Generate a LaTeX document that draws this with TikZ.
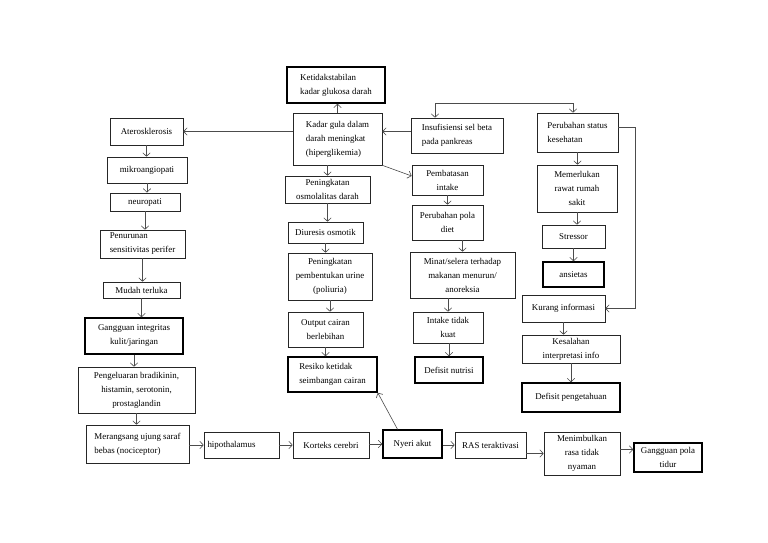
\documentclass[tikz,border=0pt]{standalone}
\usepackage{fontspec}
\setmainfont{Liberation Serif}
\usetikzlibrary{arrows.meta,calc}
\begin{document}
\begin{tikzpicture}[x=1pt,y=-1pt,
  box/.style={draw=black!85, line width=0.6pt, align=center, inner sep=1.5pt,
    font=\fontsize{8.9}{14}\selectfont},
  tbox/.style={box, line width=1.5pt, draw=black},
  lbox/.style={box, align=left},
  arr/.style={draw=black!70, line width=0.6pt, -{Straight Barb[length=3.5pt,width=7.5pt]}}]
\useasboundingbox (0,0) rectangle (768,543);
\fill[white] (0,0) rectangle (768,543);
% top middle
\node[tbox, minimum width=98, minimum height=36, align=left] (ket) at (336,85) {Ketidakstabilan\\kadar glukosa darah};
\node[lbox, minimum width=89, minimum height=52] (kadar) at (337.5,139) {Kadar gula dalam\\darah meningkat\\(hiperglikemia)};
% left column
\node[box, minimum width=73, minimum height=27] (ater) at (146.5,131.5) {Aterosklerosis};
\node[box, minimum width=80, minimum height=26] (mikro) at (147,170) {mikroangiopati};
\node[box, minimum width=70, minimum height=18, line width=0.9pt] (neuro) at (145,202) {neuropati};
\node[lbox, minimum width=85, minimum height=28] (penur) at (142.5,244) {Penurunan\\sensitivitas perifer};
\node[box, minimum width=77, minimum height=16] (mudah) at (141.5,290) {Mudah terluka};
\node[tbox, minimum width=98, minimum height=36] (gangint) at (134,336) {Gangguan integritas\\kulit/jaringan};
\node[box, minimum width=117, minimum height=46] (penge) at (136.5,390) {Pengeluaran bradikinin,\\histamin, serotonin,\\prostaglandin};
\node[lbox, minimum width=103, minimum height=38] (meran) at (137.5,444) {Merangsang ujung saraf\\bebas (nociceptor)};
% bottom row
\node[lbox, minimum width=75, minimum height=26, text width=68] (hipo) at (241.5,445) {hipothalamus};
\node[box, minimum width=76, minimum height=26] (kort) at (331,445) {Korteks cerebri};
\node[tbox, minimum width=59, minimum height=28] (nyeri) at (412.5,444) {Nyeri akut};
\node[box, minimum width=71, minimum height=26] (ras) at (490.5,445) {RAS teraktivasi};
\node[box, minimum width=76, minimum height=43] (menim) at (582,453.5) {Menimbulkan\\rasa tidak\\nyaman};
\node[tbox, minimum width=68, minimum height=29] (gpt) at (668,457.5) {Gangguan pola\\tidur};
% middle column
\node[box, minimum width=85, minimum height=27] (osmo) at (327.5,189.5) {Peningkatan\\osmolalitas darah};
\node[box, minimum width=75, minimum height=21] (diur) at (325.5,232.5) {Diuresis osmotik};
\node[box, minimum width=84, minimum height=47] (urine) at (330,276.5) {Peningkatan\\pembentukan urine\\(poliuria)};
\node[box, minimum width=75, minimum height=35] (output) at (325.5,329.5) {Output cairan\\berlebihan};
\node[tbox, minimum width=89, minimum height=35, align=left] (resiko) at (332.5,374.5) {Resiko ketidak\\seimbangan cairan};
% right-middle column
\node[lbox, minimum width=92, minimum height=35] (insuf) at (457,135.5) {Insufisiensi sel beta\\pada pankreas};
\node[box, minimum width=71, minimum height=30] (pemb) at (447.5,180) {Pembatasan\\intake};
\node[box, minimum width=71, minimum height=35] (pola) at (447.5,222.5) {Perubahan pola\\diet};
\node[box, minimum width=105, minimum height=46] (minat) at (462.5,275) {Minat/selera terhadap\\makanan menurun/\\anoreksia};
\node[box, minimum width=70, minimum height=31] (intake) at (448,327.5) {Intake tidak\\kuat};
\node[tbox, minimum width=68, minimum height=26] (defnut) at (449,370) {Defisit nutrisi};
% right column
\node[lbox, minimum width=81, minimum height=39] (pstat) at (577.5,132.5) {Perubahan status\\kesehatan};
\node[box, minimum width=80, minimum height=47] (rawat) at (577,188.5) {Memerlukan\\rawat rumah\\sakit};
\node[box, minimum width=63, minimum height=23] (stress) at (573.5,236.5) {Stressor};
\node[tbox, minimum width=61, minimum height=25] (ansi) at (573.5,274.5) {ansietas};
\node[box, minimum width=83, minimum height=27] (kurang) at (563.5,308.5) {Kurang informasi};
\node[box, minimum width=98, minimum height=28] (kesal) at (571,349) {Kesalahan\\interpretasi info};
\node[tbox, minimum width=98, minimum height=29] (defpeng) at (571,397.5) {Defisit pengetahuan};
% helper coordinates
\coordinate (tl) at (435,103);
\coordinate (tr) at (573,103);
\coordinate (rc) at (635,0);
% connectors
\draw[arr] (kadar.north) -- (kadar.north |- ket.south);
\draw[arr] (kadar.west |- ater.east) -- (ater.east);
\draw[arr] (insuf.west |- ater.east) -- (kadar.east |- ater.east);
\draw[arr] (kadar.south east) -- ([yshift=4pt]pemb.west);
\draw[arr] (kadar.south -| osmo.north) -- (osmo.north);
\draw[arr] (tl) -- (insuf.north -| tl);
\draw[arr] (tl) -- (tr) -- (pstat.north -| tr);
\draw[arr] ([yshift=5pt]pstat.east) -- ([yshift=5pt]pstat.east -| rc) -- (kurang.east -| rc) -- (kurang.east);
% left chain
\foreach \a/\b in {ater/mikro, mikro/neuro, neuro/penur, penur/mudah, mudah/gangint, gangint/penge, penge/meran}
  \draw[arr] (\a.south) -- (\a.south |- \b.north);
% bottom row
\foreach \a/\b in {meran/hipo, hipo/kort, kort/nyeri, nyeri/ras, ras/menim}
  \draw[arr] (\a.east |- \b.west) -- (\b.west);
\draw[arr] ([yshift=4pt]menim.east) -- ([yshift=4pt]menim.east -| gpt.west);
\draw[arr] ([xshift=-15pt]nyeri.north) -- (resiko.south east);
% middle chain
\foreach \a/\b in {osmo/diur, diur/urine, urine/output, output/resiko}
  \draw[arr] (\a.south) -- (\a.south |- \b.north);
% right-middle chain
\foreach \a/\b in {pemb/pola, pola/minat, minat/intake, intake/defnut}
  \draw[arr] (\b.north |- \a.south) -- (\b.north);
% right chains
\foreach \a/\b in {pstat/rawat, rawat/stress, stress/ansi, kurang/kesal, kesal/defpeng}
  \draw[arr] (\a.south) -- (\a.south |- \b.north);
\end{tikzpicture}
\end{document}
